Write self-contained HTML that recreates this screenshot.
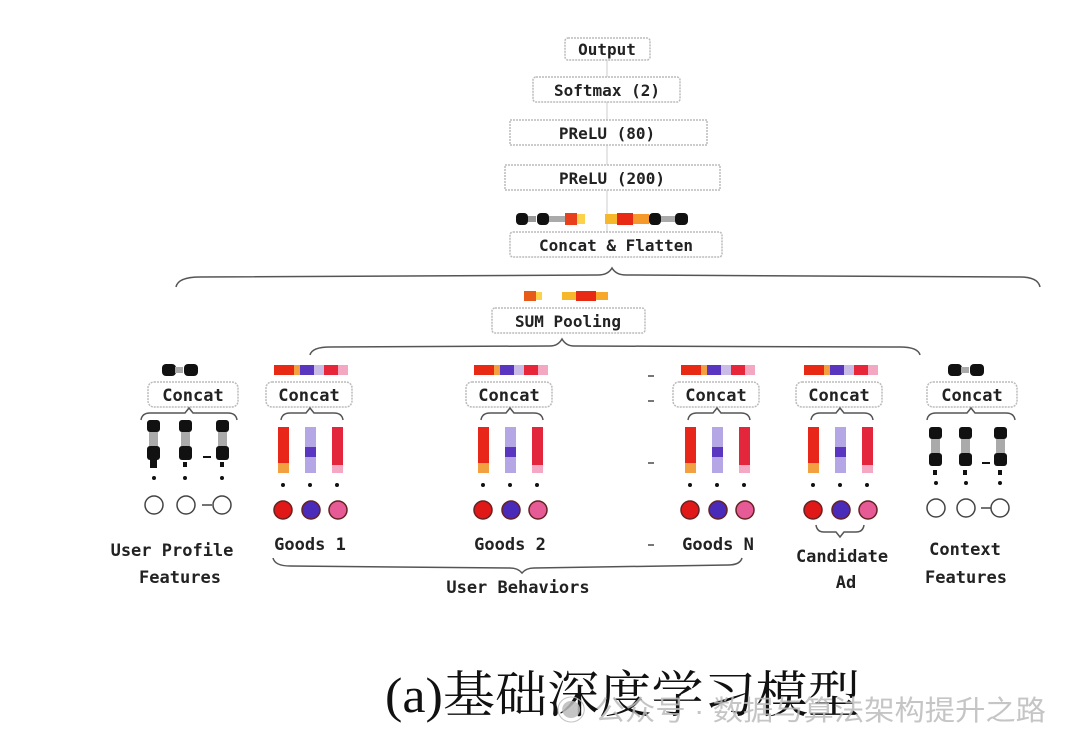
<!DOCTYPE html>
<html><head><meta charset="utf-8"><style>
html,body{margin:0;padding:0;background:#fff;width:1080px;height:750px;overflow:hidden}
svg{display:block}
.t{font-family:"DejaVu Sans Mono","Liberation Mono",monospace;font-weight:bold;fill:#222}
.bx{fill:#fff;stroke:#bbb;stroke-width:1.5;stroke-dasharray:2 1}
.br{fill:none;stroke:#555;stroke-width:1.5}
</style></head><body>
<svg width="1080" height="750" viewBox="0 0 1080 750">
<line x1="607" y1="60" x2="607" y2="232" stroke="#ccc" stroke-width="1"/>
<rect class="bx" x="565" y="38" width="85" height="22" rx="3"/>
<text class="t" x="607" y="55" font-size="16" text-anchor="middle">Output</text>
<rect class="bx" x="533" y="77" width="147" height="25" rx="3"/>
<text class="t" x="607" y="96" font-size="16" text-anchor="middle">Softmax (2)</text>
<rect class="bx" x="510" y="120" width="197" height="25"/>
<text class="t" x="607" y="139" font-size="16" text-anchor="middle">PReLU (80)</text>
<rect class="bx" x="505" y="165" width="215" height="25"/>
<text class="t" x="612" y="184" font-size="16" text-anchor="middle">PReLU (200)</text>
<g>
<rect x="516" y="213" width="12" height="12" rx="4" fill="#111"/>
<rect x="528" y="216" width="8" height="6" fill="#999"/>
<rect x="537" y="213" width="12" height="12" rx="4" fill="#111"/>
<rect x="549" y="216" width="16" height="6" fill="#aaa"/>
<rect x="565" y="213" width="12" height="12" fill="#e8401a"/>
<rect x="577" y="214" width="8" height="10" fill="#fbd24a"/>
<rect x="605" y="214" width="12" height="10" fill="#f7b72a"/>
<rect x="617" y="213" width="16" height="12" fill="#e82a14"/>
<rect x="633" y="214" width="16" height="10" fill="#f59a2a"/>
<rect x="649" y="213" width="12" height="12" rx="4" fill="#111"/>
<rect x="661" y="216" width="14" height="6" fill="#aaa"/>
<rect x="675" y="213" width="13" height="12" rx="4" fill="#111"/>
</g>
<rect class="bx" x="510" y="232" width="212" height="25" rx="3"/>
<text class="t" x="616" y="251" font-size="16" text-anchor="middle">Concat &amp; Flatten</text>
<path class="br" d="M176 287 Q178 277 200 277 L598 275 Q608 275 612 268 Q616 275 626 275 L1020 277 Q1038 277 1040 287"/>
<rect x="524" y="291" width="12" height="10" fill="#e85a1a"/>
<rect x="536" y="292" width="6" height="8" fill="#fbd24a"/>
<rect x="562" y="292" width="14" height="8" fill="#f7b72a"/>
<rect x="576" y="291" width="20" height="10" fill="#e82a14"/>
<rect x="596" y="292" width="12" height="8" fill="#f7a82a"/>
<rect class="bx" x="492" y="308" width="153" height="25" rx="3"/>
<text class="t" x="568" y="327" font-size="16" text-anchor="middle">SUM Pooling</text>
<path class="br" d="M310 355 Q312 347 330 347 L550 346 Q558 346 562 339 Q566 346 574 346 L900 347 Q918 347 920 355"/>

<g>
<rect x="162" y="364" width="14" height="12" rx="4" fill="#111"/><rect x="175" y="367" width="8" height="6" fill="#aaa"/><rect x="184" y="364" width="14" height="12" rx="4" fill="#111"/>
<rect class="bx" x="148" y="382" width="90" height="25" rx="6"/>
<text class="t" x="193" y="401" font-size="17" text-anchor="middle">Concat</text>
<path class="br" d="M141 420 Q142 413 150 413 L185 413 L189 408 L193 413 L228 413 Q236 413 237 420"/>
<g fill="#111">
<rect x="147" y="420" width="13" height="12" rx="3"/><rect x="149" y="432" width="9" height="14" fill="#aaa"/><rect x="147" y="446" width="13" height="14" rx="3"/><rect x="150" y="460" width="7" height="8"/>
<rect x="179" y="420" width="13" height="12" rx="3"/><rect x="181" y="432" width="9" height="14" fill="#aaa"/><rect x="179" y="446" width="13" height="14" rx="3"/><rect x="183" y="462" width="4" height="5"/>
<rect x="216" y="420" width="13" height="12" rx="3"/><rect x="218" y="432" width="9" height="14" fill="#aaa"/><rect x="216" y="446" width="13" height="14" rx="3"/><rect x="220" y="462" width="4" height="5"/>
<rect x="203" y="456" width="8" height="2"/>
<circle cx="154" cy="478" r="2"/><circle cx="185" cy="478" r="2"/><circle cx="222" cy="478" r="2"/>
</g>
<g fill="#fff" stroke="#444" stroke-width="1.5"><circle cx="154" cy="505" r="9"/><circle cx="186" cy="505" r="9"/><circle cx="222" cy="505" r="9"/></g>
<line x1="202" y1="505" x2="212" y2="505" stroke="#444" stroke-width="1.5"/>
<text class="t" x="172" y="556" font-size="17" text-anchor="middle">User Profile</text>
<text class="t" x="180" y="583" font-size="17" text-anchor="middle">Features</text>
</g>

<g id="g1">
<rect x="274" y="365" width="20" height="10" fill="#e82a14"/><rect x="294" y="365" width="6" height="10" fill="#f5a040"/><rect x="300" y="365" width="14" height="10" fill="#5a36c0"/><rect x="314" y="365" width="10" height="10" fill="#c9bde8"/><rect x="324" y="365" width="14" height="10" fill="#e8263a"/><rect x="338" y="365" width="10" height="10" fill="#f3a7c0"/>
<rect class="bx" x="266" y="382" width="86" height="25" rx="6"/>
<text class="t" x="309" y="401" font-size="17" text-anchor="middle">Concat</text>
<path class="br" d="M281 420 Q282 413 290 413 L306 413 L310 408 L314 413 L334 413 Q342 413 343 420"/>
<rect x="278" y="427" width="11" height="36" fill="#e8261a"/><rect x="278" y="463" width="11" height="10" fill="#f3a040"/>
<rect x="305" y="427" width="11" height="46" fill="#b5a6e6"/><rect x="305" y="447" width="11" height="10" fill="#5a36c0"/>
<rect x="332" y="427" width="11" height="38" fill="#e4263c"/><rect x="332" y="465" width="11" height="8" fill="#f4a8c4"/>
<g fill="#111"><circle cx="283" cy="485" r="2"/><circle cx="310" cy="485" r="2"/><circle cx="337" cy="485" r="2"/></g>
<g stroke="#622" stroke-width="1.5"><circle cx="283" cy="510" r="9" fill="#e01818"/><circle cx="311" cy="510" r="9" fill="#4a2ab8"/><circle cx="338" cy="510" r="9" fill="#e65a96"/></g>
</g>
<text class="t" x="310" y="550" font-size="17" text-anchor="middle">Goods 1</text>
<use href="#g1" x="200" y="0"/>
<text class="t" x="510" y="550" font-size="17" text-anchor="middle">Goods 2</text>
<use href="#g1" x="407" y="0"/>
<text class="t" x="718" y="550" font-size="17" text-anchor="middle">Goods N</text>
<use href="#g1" x="530" y="0"/>
<path class="br" d="M816 525 Q817 532 824 532 L836 532 L840 537 L844 532 L856 532 Q863 532 864 525"/>
<text class="t" x="842" y="562" font-size="17" text-anchor="middle">Candidate</text>
<text class="t" x="846" y="588" font-size="17" text-anchor="middle">Ad</text>
<g fill="#777"><rect x="648" y="375" width="6" height="2"/><rect x="648" y="400" width="6" height="2"/><rect x="648" y="462" width="6" height="2"/><rect x="648" y="544" width="6" height="2"/></g>

<g transform="translate(786,0)">
<rect x="162" y="364" width="14" height="12" rx="4" fill="#111"/><rect x="175" y="367" width="8" height="6" fill="#aaa"/><rect x="184" y="364" width="14" height="12" rx="4" fill="#111"/>
<rect class="bx" x="141" y="382" width="90" height="25" rx="6"/>
<text class="t" x="186" y="401" font-size="17" text-anchor="middle">Concat</text>
<path class="br" d="M141 420 Q142 413 150 413 L181 413 L185 408 L189 413 L220 413 Q228 413 229 420"/>
<g fill="#111">
<rect x="143" y="427" width="13" height="12" rx="3"/><rect x="145" y="439" width="9" height="14" fill="#aaa"/><rect x="143" y="453" width="13" height="13" rx="3"/><rect x="147" y="470" width="4" height="5"/>
<rect x="173" y="427" width="13" height="12" rx="3"/><rect x="175" y="439" width="9" height="14" fill="#aaa"/><rect x="173" y="453" width="13" height="13" rx="3"/><rect x="177" y="470" width="4" height="5"/>
<rect x="208" y="427" width="13" height="12" rx="3"/><rect x="210" y="439" width="9" height="14" fill="#aaa"/><rect x="208" y="453" width="13" height="13" rx="3"/><rect x="212" y="470" width="4" height="5"/>
<rect x="196" y="462" width="8" height="2"/>
<circle cx="150" cy="483" r="2"/><circle cx="180" cy="483" r="2"/><circle cx="214" cy="483" r="2"/>
</g>
<g fill="#fff" stroke="#444" stroke-width="1.5"><circle cx="150" cy="508" r="9"/><circle cx="180" cy="508" r="9"/><circle cx="214" cy="508" r="9"/></g>
<line x1="195" y1="508" x2="205" y2="508" stroke="#444" stroke-width="1.5"/>
<text class="t" x="179" y="555" font-size="17" text-anchor="middle">Context</text>
<text class="t" x="180" y="583" font-size="17" text-anchor="middle">Features</text>
</g>

<path class="br" d="M273 558 Q275 566 290 566 L510 568 Q518 568 522 573 Q526 568 534 568 L728 565 Q740 565 742 558"/>
<text class="t" x="518" y="593" font-size="17" text-anchor="middle">User Behaviors</text>

<text x="385" y="712" font-family="'Liberation Serif','Noto Serif CJK SC',serif" font-size="50" fill="#111" textLength="475" lengthAdjust="spacingAndGlyphs">(a)基础深度学习模型</text>
<text x="556" y="720" font-family="'Liberation Sans','Noto Sans CJK SC',sans-serif" font-size="28" fill="#bbb" opacity="0.85" textLength="490" lengthAdjust="spacingAndGlyphs">◉ 公众号 · 数据与算法架构提升之路</text>
</svg>
</body></html>
